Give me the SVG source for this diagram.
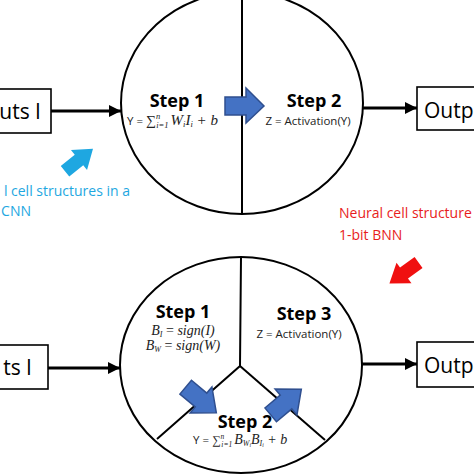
<svg xmlns="http://www.w3.org/2000/svg" width="474" height="474" viewBox="0 0 474 474">
<defs>
<style>
.ln{stroke:#000;stroke-width:2;fill:none}
.cell{fill:#fff;stroke:#000;stroke-width:2}
.box{fill:#fff;stroke:#000;stroke-width:1.6}
.conn{stroke:#000;stroke-width:3;fill:none}
.st{font-family:"Open Sans","Liberation Sans",sans-serif;font-weight:bold;font-size:18px;fill:#000;text-anchor:middle}
.fs{font-family:"Open Sans","Liberation Sans",sans-serif;font-size:11.5px;fill:#222}
.fm{font-family:"Liberation Serif","DejaVu Serif",serif;font-style:italic;fill:#222}
.big{font-family:"Open Sans","Liberation Sans",sans-serif;font-size:21px;fill:#000}
.ba{fill:#4472c4;stroke:#2f4f8f;stroke-width:1.5}
.note{font-family:"Open Sans","Liberation Sans",sans-serif;font-size:14px}
</style>
<marker id="ah" viewBox="0 0 10 10" refX="10" refY="5" markerWidth="4" markerHeight="4" markerUnits="strokeWidth" orient="auto">
<path d="M0,0 L10,5 L0,10 z" fill="#000"/>
</marker>
<path id="blk" d="M-20,-9 L0,-9 L0,-17 L20,0 L0,17 L0,9 L-20,9 z"/>
</defs>

<g id="inputs-top"><rect class="box" x="-60" y="89" width="111" height="44"/><text class="big" x="41" y="119" text-anchor="end" font-size="20">uts I</text></g>
<g id="cell-top">
<ellipse class="cell" cx="242" cy="103" rx="121" ry="111"/>
<line class="ln" x1="242" y1="-8" x2="242" y2="214"/>
</g>
<g id="step1-top">
<text class="st" x="177" y="107">Step 1</text>
<text class="fs" x="127" y="125">Y = <tspan class="fm" font-size="14" font-style="normal">∑</tspan><tspan class="fm" font-size="8.5" dy="-6">n</tspan><tspan class="fm" font-size="8.5" dx="-4" dy="9">i</tspan><tspan class="fm" font-size="8.5" font-style="normal">=1</tspan><tspan class="fm" font-size="15" dy="-3" dx="2">W</tspan><tspan class="fm" font-size="8.5" dy="2">i</tspan><tspan class="fm" font-size="15" dy="-2">I</tspan><tspan class="fm" font-size="8.5" dy="2">i</tspan><tspan class="fm" font-size="15" font-style="normal" dy="-2"> + </tspan><tspan class="fm" font-size="15">b</tspan></text>
</g>
<g id="step2-top">
<text class="st" x="314" y="107">Step 2</text>
<text class="fs" x="308" y="125" text-anchor="middle">Z = Activation(Y)</text>
</g>
<g id="outputs-top"><rect class="box" x="417" y="87" width="80" height="43"/><text class="big" x="424" y="118">Outp</text></g>

<g id="inputs-bottom"><rect class="box" x="-60" y="345" width="108" height="44"/><text class="big" x="32" y="375" text-anchor="end">ts I</text></g>
<g id="cell-bottom">
<ellipse class="cell" cx="241" cy="365" rx="121" ry="108"/>
<polyline class="ln" points="241,257 240,366 157,439"/>
<line class="ln" x1="240" y1="366" x2="325" y2="440"/>
</g>
<g id="step1-bottom">
<text class="st" x="183" y="318">Step 1</text>
<text class="fm" x="183" y="335" font-size="14" text-anchor="middle">B<tspan font-size="8" dy="2">I</tspan><tspan dy="-2" font-style="normal"> = </tspan>sign(I)</text>
<text class="fm" x="183" y="350" font-size="14" text-anchor="middle">B<tspan font-size="8" dy="2">W</tspan><tspan dy="-2" font-style="normal"> = </tspan>sign(W)</text>
</g>
<g id="step3-bottom">
<text class="st" x="304" y="320">Step 3</text>
<text class="fs" x="299" y="338" text-anchor="middle">Z = Activation(Y)</text>
</g>
<g id="step2-bottom">
<text class="st" x="245" y="428">Step 2</text>
<text class="fs" x="193" y="444" font-size="10.5">Y = <tspan class="fm" font-size="12" font-style="normal">∑</tspan><tspan class="fm" font-size="7.5" dy="-5">n</tspan><tspan class="fm" font-size="7.5" dx="-3" dy="8">i</tspan><tspan class="fm" font-size="7.5" font-style="normal">=1</tspan><tspan class="fm" font-size="14" dy="-3" dx="2">B</tspan><tspan class="fm" font-size="8" dy="2">W</tspan><tspan class="fm" font-size="5.5" dy="1">i</tspan><tspan class="fm" font-size="14" dy="-3">B</tspan><tspan class="fm" font-size="8" dy="2">I</tspan><tspan class="fm" font-size="5.5" dy="1">i</tspan><tspan class="fm" font-size="14" font-style="normal" dy="-3"> + </tspan><tspan class="fm" font-size="14">b</tspan></text>
</g>
<g id="outputs-bottom"><rect class="box" x="417" y="342" width="80" height="45"/><text class="big" x="424" y="373">Outp</text></g>

<g id="connectors">
<line class="conn" x1="51" y1="111" x2="121" y2="111" marker-end="url(#ah)"/>
<line class="conn" x1="363" y1="108" x2="417" y2="108" marker-end="url(#ah)"/>
<line class="conn" x1="48" y1="368" x2="120" y2="368" marker-end="url(#ah)"/>
<line class="conn" x1="362" y1="364" x2="417" y2="364" marker-end="url(#ah)"/>
<path class="ba" d="M225,97 L246,97 L246,88 L264,106 L246,123 L246,115 L225,115 z"/>
<use href="#blk" class="ba" transform="translate(201,400) rotate(40)"/>
<use href="#blk" class="ba" transform="translate(286,402) rotate(-40)"/>
</g>

<g id="annotations">
<use href="#blk" fill="#1ea7e1" transform="translate(79,160) rotate(-39) scale(0.9,0.75)"/>
<text class="note" x="130" y="196" fill="#1ea7e1" text-anchor="end">l cell structures in a</text>
<text class="note" x="31" y="216" fill="#1ea7e1" text-anchor="end">CNN</text>
<use href="#blk" fill="#f01010" transform="translate(404,273) rotate(144) scale(0.9,0.75)"/>
<text class="note" x="339" y="218" fill="#e81c1c">Neural cell structure</text>
<text class="note" x="339" y="240" fill="#e81c1c">1-bit BNN</text>
</g>
</svg>
